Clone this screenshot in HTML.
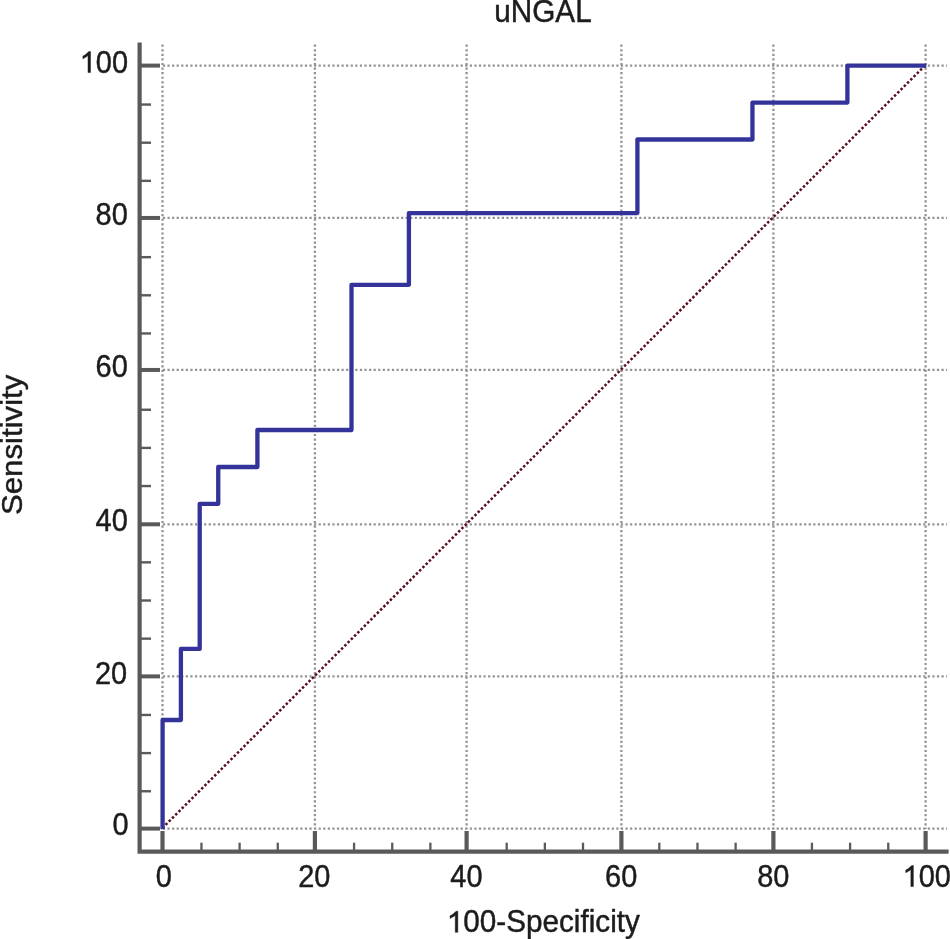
<!DOCTYPE html>
<html><head><meta charset="utf-8"><style>
html,body{margin:0;padding:0;background:#fff;width:950px;height:939px;overflow:hidden}
svg{display:block;filter:blur(0.4px)}
</style></head><body>
<svg width="950" height="939" viewBox="0 0 950 939">
<rect width="950" height="939" fill="#fff"/>
<line x1="162.5" y1="44" x2="162.5" y2="829" stroke="#939393" stroke-width="2.3" stroke-dasharray="2.2 2.38" stroke-dashoffset="-0.6"/>
<line x1="314.9" y1="44" x2="314.9" y2="829" stroke="#939393" stroke-width="2.3" stroke-dasharray="2.2 2.38" stroke-dashoffset="-0.6"/>
<line x1="466.6" y1="44" x2="466.6" y2="829" stroke="#939393" stroke-width="2.3" stroke-dasharray="2.2 2.38" stroke-dashoffset="-0.6"/>
<line x1="621.4" y1="44" x2="621.4" y2="829" stroke="#939393" stroke-width="2.3" stroke-dasharray="2.2 2.38" stroke-dashoffset="-0.6"/>
<line x1="773.4" y1="44" x2="773.4" y2="829" stroke="#939393" stroke-width="2.3" stroke-dasharray="2.2 2.38" stroke-dashoffset="-0.6"/>
<line x1="925.6" y1="44" x2="925.6" y2="829" stroke="#939393" stroke-width="2.3" stroke-dasharray="2.2 2.38" stroke-dashoffset="-0.6"/>
<line x1="162" y1="65.6" x2="947" y2="65.6" stroke="#939393" stroke-width="2.3" stroke-dasharray="2.2 2.38" stroke-dashoffset="-0.9"/>
<line x1="162" y1="217.95" x2="947" y2="217.95" stroke="#939393" stroke-width="2.3" stroke-dasharray="2.2 2.38" stroke-dashoffset="-0.9"/>
<line x1="162" y1="369.95" x2="947" y2="369.95" stroke="#939393" stroke-width="2.3" stroke-dasharray="2.2 2.38" stroke-dashoffset="-0.9"/>
<line x1="162" y1="524.3" x2="947" y2="524.3" stroke="#939393" stroke-width="2.3" stroke-dasharray="2.2 2.38" stroke-dashoffset="-0.9"/>
<line x1="162" y1="676.37" x2="947" y2="676.37" stroke="#939393" stroke-width="2.3" stroke-dasharray="2.2 2.38" stroke-dashoffset="-0.9"/>
<line x1="162" y1="828.6" x2="947" y2="828.6" stroke="#939393" stroke-width="2.3" stroke-dasharray="2.2 2.38" stroke-dashoffset="-0.9"/>
<line x1="162.3" y1="828.2" x2="925.3" y2="65.2" stroke="#5a0f1e" stroke-width="2.5" stroke-dasharray="2.5 2.1"/>
<path d="M139.6 42.5 V851.6 H948.6" fill="none" stroke="#5a5a5a" stroke-width="4.2"/>
<line x1="141" y1="65.6" x2="160" y2="65.6" stroke="#5a5a5a" stroke-width="4"/>
<line x1="141" y1="217.95" x2="160" y2="217.95" stroke="#5a5a5a" stroke-width="4"/>
<line x1="141" y1="369.95" x2="160" y2="369.95" stroke="#5a5a5a" stroke-width="4"/>
<line x1="141" y1="524.3" x2="160" y2="524.3" stroke="#5a5a5a" stroke-width="4"/>
<line x1="141" y1="676.37" x2="160" y2="676.37" stroke="#5a5a5a" stroke-width="4"/>
<line x1="141" y1="828.6" x2="160" y2="828.6" stroke="#5a5a5a" stroke-width="4"/>
<line x1="141" y1="791.25" x2="151" y2="791.25" stroke="#5a5a5a" stroke-width="2.4"/>
<line x1="141" y1="753.10" x2="151" y2="753.10" stroke="#5a5a5a" stroke-width="2.4"/>
<line x1="141" y1="714.95" x2="151" y2="714.95" stroke="#5a5a5a" stroke-width="2.4"/>
<line x1="141" y1="638.65" x2="151" y2="638.65" stroke="#5a5a5a" stroke-width="2.4"/>
<line x1="141" y1="600.50" x2="151" y2="600.50" stroke="#5a5a5a" stroke-width="2.4"/>
<line x1="141" y1="562.35" x2="151" y2="562.35" stroke="#5a5a5a" stroke-width="2.4"/>
<line x1="141" y1="486.05" x2="151" y2="486.05" stroke="#5a5a5a" stroke-width="2.4"/>
<line x1="141" y1="447.90" x2="151" y2="447.90" stroke="#5a5a5a" stroke-width="2.4"/>
<line x1="141" y1="409.75" x2="151" y2="409.75" stroke="#5a5a5a" stroke-width="2.4"/>
<line x1="141" y1="333.45" x2="151" y2="333.45" stroke="#5a5a5a" stroke-width="2.4"/>
<line x1="141" y1="295.30" x2="151" y2="295.30" stroke="#5a5a5a" stroke-width="2.4"/>
<line x1="141" y1="257.15" x2="151" y2="257.15" stroke="#5a5a5a" stroke-width="2.4"/>
<line x1="141" y1="180.85" x2="151" y2="180.85" stroke="#5a5a5a" stroke-width="2.4"/>
<line x1="141" y1="142.70" x2="151" y2="142.70" stroke="#5a5a5a" stroke-width="2.4"/>
<line x1="141" y1="104.55" x2="151" y2="104.55" stroke="#5a5a5a" stroke-width="2.4"/>
<line x1="162.5" y1="831" x2="162.5" y2="850" stroke="#5a5a5a" stroke-width="4.2"/>
<line x1="314.9" y1="831" x2="314.9" y2="850" stroke="#5a5a5a" stroke-width="4.2"/>
<line x1="466.6" y1="831" x2="466.6" y2="850" stroke="#5a5a5a" stroke-width="4.2"/>
<line x1="621.4" y1="831" x2="621.4" y2="850" stroke="#5a5a5a" stroke-width="4.2"/>
<line x1="773.4" y1="831" x2="773.4" y2="850" stroke="#5a5a5a" stroke-width="4.2"/>
<line x1="925.6" y1="831" x2="925.6" y2="850" stroke="#5a5a5a" stroke-width="4.2"/>
<line x1="201.46" y1="842.7" x2="201.46" y2="850" stroke="#5a5a5a" stroke-width="2.3"/>
<line x1="239.61" y1="842.7" x2="239.61" y2="850" stroke="#5a5a5a" stroke-width="2.3"/>
<line x1="277.77" y1="842.7" x2="277.77" y2="850" stroke="#5a5a5a" stroke-width="2.3"/>
<line x1="354.07" y1="842.7" x2="354.07" y2="850" stroke="#5a5a5a" stroke-width="2.3"/>
<line x1="392.23" y1="842.7" x2="392.23" y2="850" stroke="#5a5a5a" stroke-width="2.3"/>
<line x1="430.39" y1="842.7" x2="430.39" y2="850" stroke="#5a5a5a" stroke-width="2.3"/>
<line x1="506.69" y1="842.7" x2="506.69" y2="850" stroke="#5a5a5a" stroke-width="2.3"/>
<line x1="544.85" y1="842.7" x2="544.85" y2="850" stroke="#5a5a5a" stroke-width="2.3"/>
<line x1="583.00" y1="842.7" x2="583.00" y2="850" stroke="#5a5a5a" stroke-width="2.3"/>
<line x1="659.31" y1="842.7" x2="659.31" y2="850" stroke="#5a5a5a" stroke-width="2.3"/>
<line x1="697.47" y1="842.7" x2="697.47" y2="850" stroke="#5a5a5a" stroke-width="2.3"/>
<line x1="735.62" y1="842.7" x2="735.62" y2="850" stroke="#5a5a5a" stroke-width="2.3"/>
<line x1="811.93" y1="842.7" x2="811.93" y2="850" stroke="#5a5a5a" stroke-width="2.3"/>
<line x1="850.09" y1="842.7" x2="850.09" y2="850" stroke="#5a5a5a" stroke-width="2.3"/>
<line x1="888.25" y1="842.7" x2="888.25" y2="850" stroke="#5a5a5a" stroke-width="2.3"/>
<path d="M162.6 829.2 V720.0 H180.9 V648.9 H199.7 V503.8 H218.25 V467.0 H257.4 V430.0 H351.5 V284.85 H408.9 V213.1 H637.4 V139.5 H752.45 V102.6 H847.4 V65.6 H926.3" fill="none" stroke="#333399" stroke-width="4.3" stroke-linejoin="round"/>
<g transform="translate(79.75,72.60) scale(0.965,1.02)" fill="#1c1c1c" stroke="#1c1c1c" stroke-width="0.45"><path transform="translate(0.00,0) scale(0.014648,-0.014648)" stroke-width="30.72" d="M763 0H583V1147Q518 1085 412 1023T223 930V1104Q375 1175 489 1276T650 1412H763Z"/><text x="16.68" y="0" font-family="Liberation Sans, sans-serif" font-size="30">00</text></g>
<g transform="translate(95.60,224.60) scale(0.965,1.02)" fill="#1c1c1c" stroke="#1c1c1c" stroke-width="0.45"><text x="0.00" y="0" font-family="Liberation Sans, sans-serif" font-size="30">80</text></g>
<g transform="translate(95.60,376.60) scale(0.965,1.02)" fill="#1c1c1c" stroke="#1c1c1c" stroke-width="0.45"><text x="0.00" y="0" font-family="Liberation Sans, sans-serif" font-size="30">60</text></g>
<g transform="translate(95.60,531.10) scale(0.965,1.02)" fill="#1c1c1c" stroke="#1c1c1c" stroke-width="0.45"><text x="0.00" y="0" font-family="Liberation Sans, sans-serif" font-size="30">40</text></g>
<g transform="translate(95.00,683.60) scale(0.965,1.02)" fill="#1c1c1c" stroke="#1c1c1c" stroke-width="0.45"><text x="0.00" y="0" font-family="Liberation Sans, sans-serif" font-size="30">20</text></g>
<g transform="translate(112.40,835.40) scale(0.965,1.02)" fill="#1c1c1c" stroke="#1c1c1c" stroke-width="0.45"><text x="0.00" y="0" font-family="Liberation Sans, sans-serif" font-size="30">0</text></g>
<g transform="translate(155.70,886.60) scale(0.965,1.02)" fill="#1c1c1c" stroke="#1c1c1c" stroke-width="0.45"><text x="0.00" y="0" font-family="Liberation Sans, sans-serif" font-size="30">0</text></g>
<g transform="translate(298.15,886.60) scale(0.965,1.02)" fill="#1c1c1c" stroke="#1c1c1c" stroke-width="0.45"><text x="0.00" y="0" font-family="Liberation Sans, sans-serif" font-size="30">20</text></g>
<g transform="translate(450.30,886.60) scale(0.965,1.02)" fill="#1c1c1c" stroke="#1c1c1c" stroke-width="0.45"><text x="0.00" y="0" font-family="Liberation Sans, sans-serif" font-size="30">40</text></g>
<g transform="translate(605.05,886.60) scale(0.965,1.02)" fill="#1c1c1c" stroke="#1c1c1c" stroke-width="0.45"><text x="0.00" y="0" font-family="Liberation Sans, sans-serif" font-size="30">60</text></g>
<g transform="translate(757.15,886.60) scale(0.965,1.02)" fill="#1c1c1c" stroke="#1c1c1c" stroke-width="0.45"><text x="0.00" y="0" font-family="Liberation Sans, sans-serif" font-size="30">80</text></g>
<g transform="translate(902.60,886.60) scale(0.965,1.02)" fill="#1c1c1c" stroke="#1c1c1c" stroke-width="0.45"><path transform="translate(0.00,0) scale(0.014648,-0.014648)" stroke-width="30.72" d="M763 0H583V1147Q518 1085 412 1023T223 930V1104Q375 1175 489 1276T650 1412H763Z"/><text x="16.68" y="0" font-family="Liberation Sans, sans-serif" font-size="30">00</text></g>
<g transform="translate(494.30,22.20) scale(0.99,1.02)" fill="#1c1c1c" stroke="#1c1c1c" stroke-width="0.45"><text x="0.00" y="0" font-family="Liberation Sans, sans-serif" font-size="30">uNGAL</text></g>
<g transform="translate(446.78,932.30) scale(0.99,1.02)" fill="#1c1c1c" stroke="#1c1c1c" stroke-width="0.45"><path transform="translate(0.00,0) scale(0.014648,-0.014648)" stroke-width="30.72" d="M763 0H583V1147Q518 1085 412 1023T223 930V1104Q375 1175 489 1276T650 1412H763Z"/><text x="16.68" y="0" font-family="Liberation Sans, sans-serif" font-size="30">00-Specificity</text></g>
<text transform="translate(22.30,444.85) rotate(-90) scale(1.04,1.0)" x="0" y="0" text-anchor="middle" font-family="Liberation Sans, sans-serif" font-size="30" fill="#1c1c1c" stroke="#1c1c1c" stroke-width="0.45">Sensitivity</text>
</svg>
</body></html>
